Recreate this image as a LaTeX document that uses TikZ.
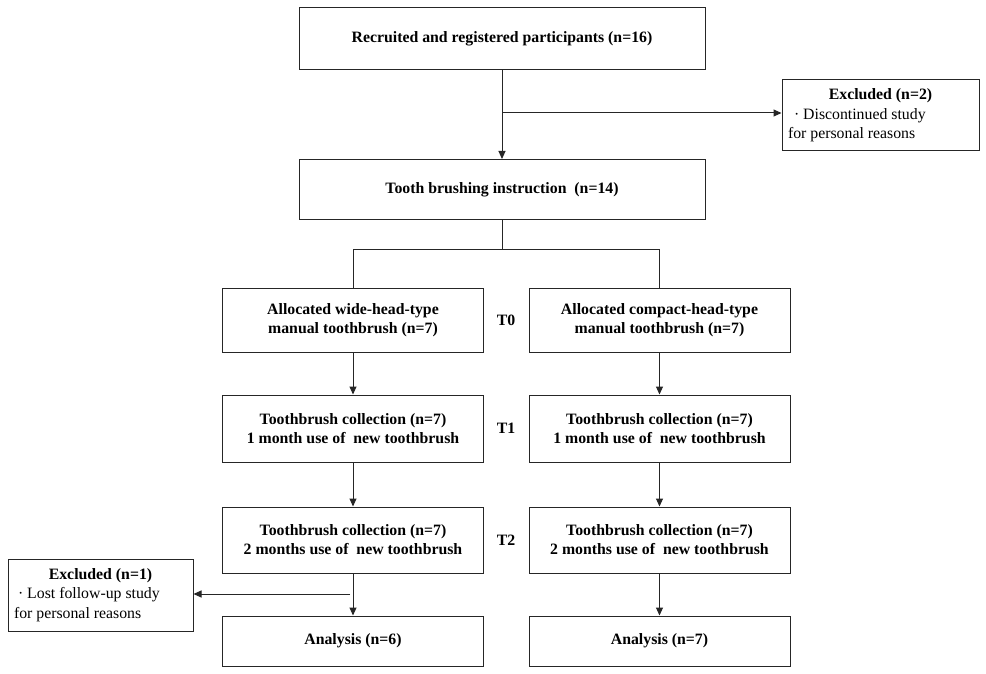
\documentclass[tikz,border=0pt]{standalone}
\usepackage{fontspec}
\setmainfont{Liberation Serif}
\usetikzlibrary{arrows.meta,calc}
\begin{document}
\begin{tikzpicture}[x=1pt,y=-1pt,
  every node/.style={font=\fontsize{15.8}{19}\selectfont},
  box/.style={draw=black!85, line width=1pt, inner sep=0pt, align=center, font=\fontsize{15.8}{19}\selectfont\bfseries},
  exbox/.style={draw=black!85, line width=1pt, inner sep=0pt, align=left},
  tlab/.style={font=\fontsize{15.8}{19}\selectfont\bfseries},
  line/.style={draw=black!85, line width=1pt},
  arr/.style={line, -{Triangle[length=8pt,width=7pt]}}]
\useasboundingbox (0,0) rectangle (986,674);
\fill[white] (0,0) rectangle (986,674);
% boxes
\node[box, minimum width=406, minimum height=62] (top) at (502,39) {Recruited and registered participants (n=16)};
\node[box, minimum width=406, minimum height=60] (tooth) at (502,189.5) {Tooth brushing instruction~~(n=14)};
\node[exbox, minimum width=197, minimum height=71] (ex1) at (880.5,115.5) {\makebox[185pt][c]{\bfseries Excluded (n=2)}\\[0.5pt]\hspace{6pt}· Discontinued study\\[0.5pt]for personal reasons};
\node[box, minimum width=261, minimum height=64] (aL) at (353,320) {Allocated wide-head-type\\manual toothbrush (n=7)};
\node[box, minimum width=261, minimum height=64] (aR) at (659.5,320) {Allocated compact-head-type\\manual toothbrush (n=7)};
\node[box, minimum width=261, minimum height=67] (t1L) at (353,428.5) {Toothbrush collection (n=7)\\1 month use of~~new toothbrush};
\node[box, minimum width=261, minimum height=67] (t1R) at (659.5,428.5) {Toothbrush collection (n=7)\\1 month use of~~new toothbrush};
\node[box, minimum width=261, minimum height=66] (t2L) at (353,540) {Toothbrush collection (n=7)\\2 months use of~~new toothbrush};
\node[box, minimum width=261, minimum height=66] (t2R) at (659.5,540) {Toothbrush collection (n=7)\\2 months use of~~new toothbrush};
\node[box, minimum width=261, minimum height=50] (anL) at (353,641) {Analysis (n=6)};
\node[box, minimum width=261, minimum height=50] (anR) at (659.5,641) {Analysis (n=7)};
\node[exbox, minimum width=185, minimum height=72] (ex2) at (100.5,595) {\makebox[173pt][c]{\bfseries Excluded (n=1)}\\[0.5pt]\hspace{4pt}· Lost follow-up study\\[0.5pt]for personal reasons};
% time labels
\node[tlab] (T0) at (506,320) {T0};
\node[tlab] (T1) at (506,428.5) {T1};
\node[tlab] (T2) at (506,540) {T2};
% connectors
\coordinate (b1) at (502,113);
\draw[arr] (top.south) -- (tooth.north);
\draw[arr] (b1) -- (b1 -| ex1.west);
\coordinate (sp) at (502,249);
\draw[line] (tooth.south) -- (sp);
\draw[line] (sp -| aL.north) -- (sp -| aR.north);
\draw[line] (sp -| aL.north) -- (aL.north);
\draw[line] (sp -| aR.north) -- (aR.north);
\draw[arr] (aL.south) -- (t1L.north);
\draw[arr] (aR.south) -- (t1R.north);
\draw[arr] (t1L.south) -- (t2L.north);
\draw[arr] (t1R.south) -- (t2R.north);
\draw[arr] (t2L.south) -- (anL.north);
\draw[arr] (t2R.south) -- (anR.north);
\coordinate (b2) at (350,594);
\draw[arr] (b2) -- (b2 -| ex2.east);
\end{tikzpicture}
\end{document}
